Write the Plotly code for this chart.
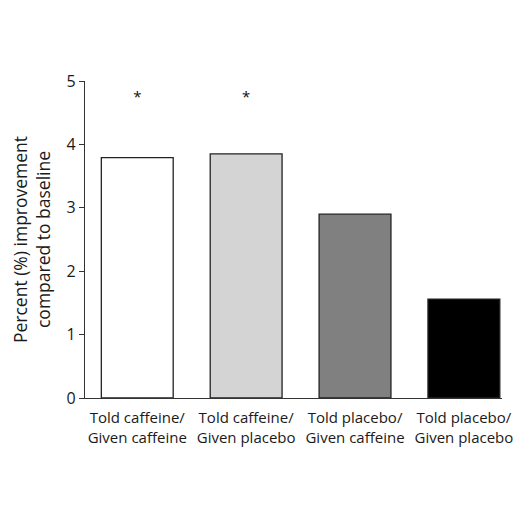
import plotly.graph_objects as go

categories = ["Told caffeine/<br>Given caffeine", "Told caffeine/<br>Given placebo",
              "Told placebo/<br>Given caffeine", "Told placebo/<br>Given placebo"]
improvement = [3.79, 3.85, 2.90, 1.56]
bar_colors = ["#ffffff", "#d4d4d4", "#808080", "#000000"]
significance = ["*", "*", "", ""]
star_level = [4.73, 4.73, None, None]

fig = go.Figure()

fig.add_trace(go.Bar(
    x=[0, 1, 2, 3],
    y=improvement,
    width=0.66,
    marker=dict(color=bar_colors, line=dict(color="#222222", width=1.3)),
))

fig.add_trace(go.Scatter(
    x=[0, 1, 2, 3],
    y=star_level,
    mode="text",
    text=significance,
    textfont=dict(size=15, color="#111111", family="Open Sans"),
))

fig.update_layout(
    width=521, height=521,
    margin=dict(l=77, r=27, t=73, b=131),
    plot_bgcolor="white",
    paper_bgcolor="white",
    showlegend=False,
    font=dict(family="Open Sans", color="#1a1a1a"),
    xaxis=dict(
        range=[-0.48, 3.35],
        tickmode="array",
        tickvals=[0, 1, 2, 3],
        ticktext=categories,
        ticks="",
        ticklabelstandoff=6,
        showline=True,
        linecolor="#333333",
        linewidth=1.3,
        showgrid=False,
        zeroline=False,
        automargin=False,
        tickfont=dict(size=15),
    ),
    yaxis=dict(
        range=[0, 5],
        tickvals=[0, 1, 2, 3, 4, 5],
        ticks="outside",
        ticklen=5,
        tickcolor="#333333",
        showline=True,
        linecolor="#333333",
        linewidth=1.3,
        showgrid=False,
        zeroline=False,
        automargin=False,
        tickfont=dict(size=16),
        title=dict(text="Percent (%) improvement<br>compared to baseline",
                   font=dict(size=17.5), standoff=12),
    ),
)

fig.write_html("out.html")
